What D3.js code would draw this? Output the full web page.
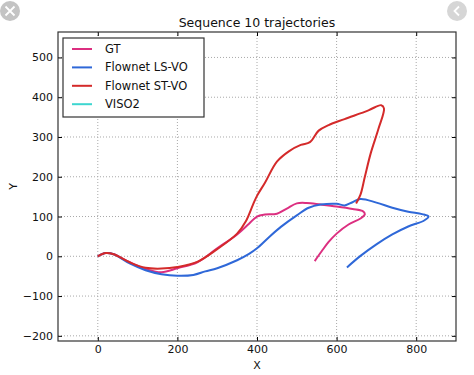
<!DOCTYPE html>
<html>
<head>
<meta charset="utf-8">
<script src="https://cdn.jsdelivr.net/npm/d3@7"></script>
<style>
  body { margin: 0; background: #fff; }
  svg { font-family: "DejaVu Sans", sans-serif; }
</style>
</head>
<body>
<div id="chart"></div>
<script>
// trajectory points [x, y]
const gtPts = [[0,0],[20,8],[40,5],[80,-15],[120,-32],[160,-40],[200,-30],[250,-15],[300,20],[350,55],[380,82],[400,100],[420,105],[450,107],[475,120],[500,133],[525,134],[560,130],[600,125],[640,119],[665,114],[671,106],[660,95],[630,80],[600,57],[580,36],[562,12],[545,-12]];
const lsPts = [[0,0],[20,8],[40,5],[80,-18],[120,-35],[160,-45],[200,-49],[240,-47],[270,-38],[300,-30],[350,-10],[380,6],[400,20],[430,48],[460,74],[500,103],[530,122],[560,130],[600,132],[620,128],[640,136],[660,144],[700,135],[740,122],[780,112],[815,106],[831,100],[820,90],[780,75],[740,55],[700,30],[660,1],[626,-28]];
const stPts = [[0,0],[20,8],[40,5],[80,-15],[120,-29],[160,-31],[200,-27],[250,-14],[300,18],[350,57],[372,88],[390,130],[400,152],[420,185],[450,238],[480,264],[510,280],[533,287],[555,316],[580,330],[620,345],[680,367],[712,380],[719,372],[705,320],[686,260],[671,200],[660,155],[649,133]];
const visoPts = [];

const series = [
  { name: "GT", pts: gtPts, color: "#dc2f80" },
  { name: "Flownet LS-VO", pts: lsPts, color: "#2f68d8" },
  { name: "Flownet ST-VO", pts: stPts, color: "#d42a2a" },
  { name: "VISO2", pts: visoPts, color: "#3dd6d0" }
];

const xTicks = [0, 200, 400, 600, 800];
const yTicks = [-200, -100, 0, 100, 200, 300, 400, 500];

const W = 474, H = 375;
const margin = { top: 32, right: 18, bottom: 34, left: 58 },
  width = W - margin.left - margin.right,
  height = H - margin.top - margin.bottom;

const root = d3.select("#chart").append("svg")
  .attr("width", W)
  .attr("height", H);

const svg = root.append("g")
  .attr("transform", `translate(${margin.left},${margin.top})`);

const x = d3.scaleLinear().domain([-100, 900]).range([0, width]);
const y = d3.scaleLinear().domain([-213, 564]).range([height, 0]);

// grid
svg.append("g")
  .selectAll("line")
  .data(xTicks)
  .join("line")
  .attr("x1", d => x(d)).attr("x2", d => x(d))
  .attr("y1", 0).attr("y2", height)
  .attr("stroke", "#a8a8a8")
  .attr("stroke-width", 1)
  .attr("stroke-dasharray", "1,2");

svg.append("g")
  .selectAll("line")
  .data(yTicks)
  .join("line")
  .attr("x1", 0).attr("x2", width)
  .attr("y1", d => y(d)).attr("y2", d => y(d))
  .attr("stroke", "#a8a8a8")
  .attr("stroke-width", 1)
  .attr("stroke-dasharray", "1,2");

// trajectories
const line = d3.line()
  .x(d => x(d[0]))
  .y(d => y(d[1]))
  .curve(d3.curveCatmullRom.alpha(0.5));

svg.selectAll(".traj")
  .data(series.filter(s => s.pts.length))
  .join("path")
  .attr("class", "traj")
  .attr("fill", "none")
  .attr("stroke", d => d.color)
  .attr("stroke-width", 2)
  .attr("stroke-linejoin", "round")
  .attr("d", d => line(d.pts));

// axes, ticks pointing inward on all four sides
const axStyle = g => {
  g.select(".domain").remove();
  g.selectAll(".tick line").attr("stroke", "#000");
  g.selectAll(".tick text").attr("font-size", "11px").attr("fill", "#111")
    .attr("font-family", "DejaVu Sans, sans-serif");
};

svg.append("g")
  .attr("transform", `translate(0,${height})`)
  .call(d3.axisBottom(x).tickValues(xTicks).tickSizeInner(-4).tickSizeOuter(0).tickPadding(4))
  .call(axStyle);

svg.append("g")
  .call(d3.axisLeft(y).tickValues(yTicks).tickSizeInner(-4).tickSizeOuter(0).tickPadding(5)
    .tickFormat(d => d < 0 ? "\u2212" + Math.abs(d) : d))
  .call(axStyle);

svg.append("g")
  .call(d3.axisTop(x).tickValues(xTicks).tickSizeInner(-4).tickSizeOuter(0).tickFormat(""))
  .call(axStyle);

svg.append("g")
  .attr("transform", `translate(${width},0)`)
  .call(d3.axisRight(y).tickValues(yTicks).tickSizeInner(-4).tickSizeOuter(0).tickFormat(""))
  .call(axStyle);

// frame
svg.append("rect")
  .attr("width", width)
  .attr("height", height)
  .attr("fill", "none")
  .attr("stroke", "#333")
  .attr("stroke-width", 1.2);

// legend
const legend = svg.append("g").attr("transform", "translate(5,6)");
legend.append("rect")
  .attr("width", 141).attr("height", 79)
  .attr("fill", "#fff")
  .attr("stroke", "#333").attr("stroke-width", 1.2);

const item = legend.selectAll(".item")
  .data(series)
  .join("g")
  .attr("class", "item")
  .attr("transform", (d, i) => `translate(0,${11 + i * 18.4})`);

item.append("line")
  .attr("x1", 9).attr("x2", 29)
  .attr("stroke", d => d.color)
  .attr("stroke-width", 2);

item.append("text")
  .attr("x", 42).attr("dy", "0.35em")
  .attr("font-size", "11.5px")
  .attr("fill", "#111")
  .text(d => d.name);

// titles
root.append("text")
  .attr("x", margin.left + width / 2).attr("y", 27)
  .attr("text-anchor", "middle")
  .attr("font-size", "12.5px")
  .attr("fill", "#111")
  .text("Sequence 10 trajectories");

root.append("text")
  .attr("x", margin.left + width / 2).attr("y", 369)
  .attr("text-anchor", "middle")
  .attr("font-size", "11px")
  .attr("fill", "#111")
  .text("X");

root.append("text")
  .attr("transform", `translate(17,${margin.top + height / 2}) rotate(-90)`)
  .attr("text-anchor", "middle")
  .attr("font-size", "11px")
  .attr("fill", "#111")
  .text("Y");

// viewer buttons in the screenshot corners
root.append("circle").attr("cx", 10).attr("cy", 11).attr("r", 10).attr("fill", "#c4c4c4");
root.append("path").attr("d", "M5.5,6.5L14.5,15.5M14.5,6.5L5.5,15.5")
  .attr("stroke", "#fff").attr("stroke-width", 1.8);
root.append("circle").attr("cx", 457).attr("cy", 11).attr("r", 10).attr("fill", "#d6d6d6");
root.append("path").attr("d", "M459,6.5L454.5,11L459,15.5")
  .attr("fill", "none").attr("stroke", "#fff").attr("stroke-width", 1.8);
</script>
</body>
</html>
